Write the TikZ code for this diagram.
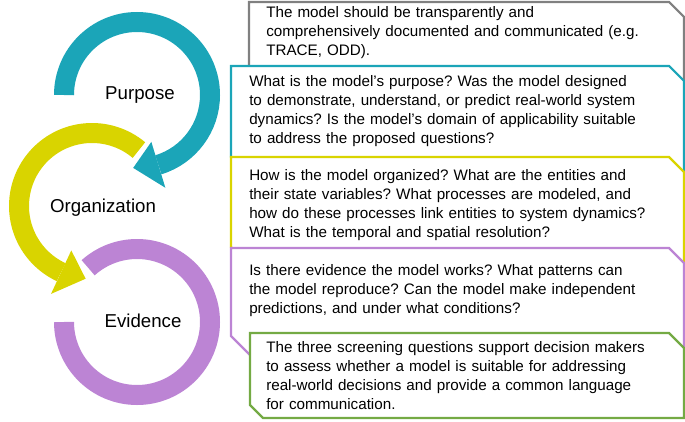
\documentclass[tikz,border=0pt]{standalone}
\usepackage{fontspec}
\setmainfont{Liberation Sans}
\usepackage{tikz}
\frenchspacing
\definecolor{ringcyan}{HTML}{1BA5B8}
\definecolor{ringyellow}{HTML}{D9D400}
\definecolor{ringpurple}{HTML}{BC84D4}
\definecolor{boxgreen}{HTML}{74AA44}
\definecolor{boxgray}{HTML}{808080}
\tikzset{
ring/.style={line width=15pt},
label/.style={font=\fontsize{14}{16}\selectfont},
boxline/.style={line width=1.6pt,fill=white},
boxtext/.style={
  anchor=north west,
  inner sep=0pt,
  text width=330pt,
  align=left,
  font=\fontsize{11.4}{14.25}\selectfont
},
}
% #1 colour, #2 centre, #3 start, #4 base angle, #5 tip angle
\newcommand{\ringarrow}[5]{
  \draw[ring,#1] ([shift={(#3:73)}]#2) arc[start angle=#3,end angle=#4,radius=73];
  \fill[#1] ([shift={(#4:49)}]#2) -- ([shift={(#4:97)}]#2) -- ([shift={(#5:73)}]#2) -- cycle;
}
% #1 colour, #2 left, #3 top, #4 bottom, #5 corner
\newcommand{\notebox}[5]{
  \draw[boxline,draw=#1] (#2,-#3) -- (669,-#3) -- (684,-#3-15) -- (684,-#4)
    -- (#2+#5,-#4) -- (#2,-#4+#5) -- cycle;
}

\begin{document}
\begin{tikzpicture}[x=0.75pt,y=0.75pt]
\useasboundingbox (0,0) rectangle (685,-421);
\coordinate (cP) at (137,-95);
\coordinate (cO) at (92,-206);
\coordinate (cE) at (137,-322);
% the rings
\ringarrow{ringcyan}{cP}{180}{-73}{-93}
\ringarrow{ringyellow}{cO}{50}{245}{265}
\draw[ring,ringpurple] ([shift={(180:73)}]cE) arc[start angle=180,end angle=492,radius=73];
\node[label] (purpose) at (140,-95) {Purpose};
\node[label] (organization) at (103,-208) {Organization};
\node[label] (evidence) at (143,-321) {Evidence};
% the boxes
\notebox{boxgray}{249}{2}{90}{18}
\notebox{ringcyan}{231}{66}{175}{18}
\notebox{ringyellow}{231}{157}{265}{18}
\notebox{ringpurple}{231}{248}{360}{24}
\notebox{boxgreen}{250}{333}{418}{13}
\node[boxtext] (doc) at (266,-6) {The model should be transparently and\\comprehensively documented and communicated (e.g.\\TRACE, ODD).};
\node[boxtext] (purq) at (249,-75) {What is the model’s purpose? Was the model designed\\to demonstrate, understand, or predict real-world system\\dynamics? Is the model’s domain of applicability suitable\\to address the proposed questions?};
\node[boxtext] (orgq) at (249,-169) {How is the model organized? What are the entities and\\their state variables? What processes are modeled, and\\how do these processes link entities to system dynamics?\\What is the temporal and spatial resolution?};
\node[boxtext] (evq) at (249,-264) {Is there evidence the model works? What patterns can\\the model reproduce? Can the model make independent\\predictions, and under what conditions?};
\node[boxtext] (summary) at (266,-341) {The three screening questions support decision makers\\to assess whether a model is suitable for addressing\\real-world decisions and provide a common language\\for communication.};
\end{tikzpicture}
\end{document}
